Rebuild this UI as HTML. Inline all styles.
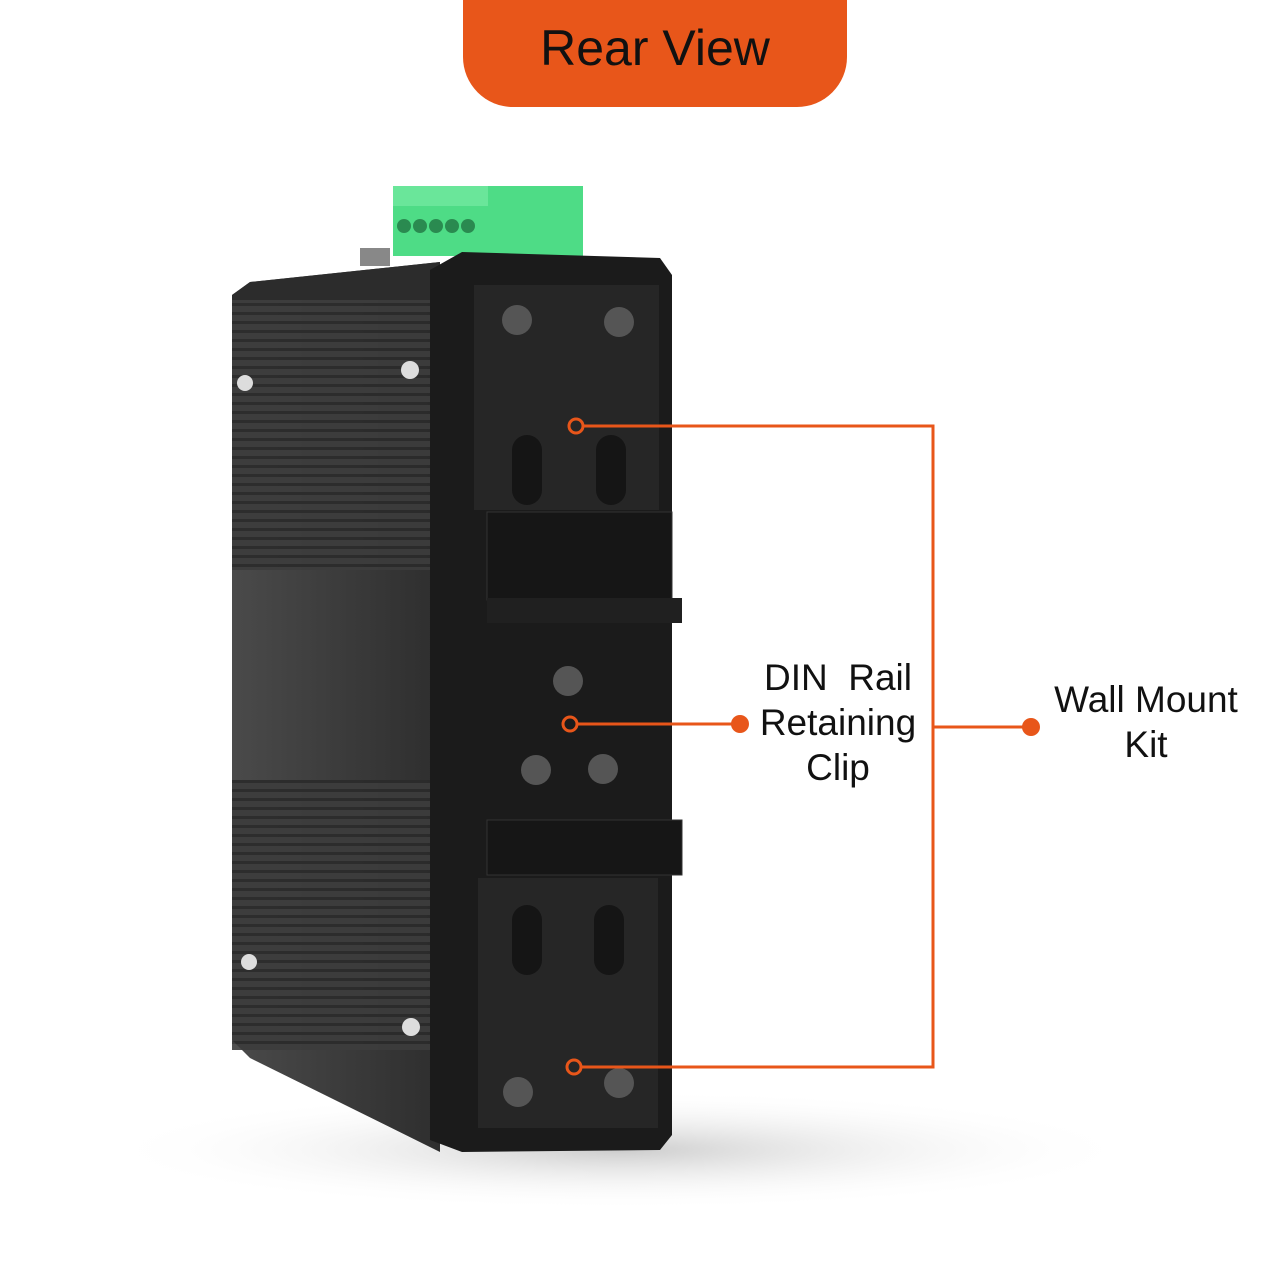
<!DOCTYPE html>
<html><head><meta charset="utf-8"><style>
html,body{margin:0;padding:0;background:#fff;}
body{width:1280px;height:1280px;overflow:hidden;position:relative;font-family:"Liberation Sans",sans-serif;}
.tab{position:absolute;left:463px;top:0;width:384px;height:107px;background:#E8561A;border-radius:0 0 50px 50px;text-align:center;font-size:50px;line-height:96px;color:#111;}
.lbl{position:absolute;font-size:37px;color:#111;text-align:center;line-height:45px;}
</style></head><body>
<div class="tab">Rear View</div>
<svg width="1280" height="1280" style="position:absolute;left:0;top:0">
<defs>
<linearGradient id="side" x1="0" x2="1"><stop offset="0" stop-color="#4a4a4a"/><stop offset="1" stop-color="#2e2e2e"/></linearGradient>
<pattern id="ribs" width="10" height="9" patternUnits="userSpaceOnUse"><rect width="10" height="9" fill="#3c3c3c"/><rect y="6" width="10" height="3" fill="#2a2a2a"/></pattern>
<radialGradient id="shadow" cx="0.5" cy="0.5" r="0.5"><stop offset="0" stop-color="#ccc"/><stop offset="1" stop-color="#fff" stop-opacity="0"/></radialGradient>
</defs>
<ellipse cx="620" cy="1150" rx="520" ry="60" fill="url(#shadow)"/>
<!-- green connector -->
<rect x="393" y="186" width="190" height="70" fill="#4edc86"/>
<rect x="393" y="186" width="95" height="20" fill="#6ae69a"/>
<g fill="#2a8a50"><circle cx="404" cy="226" r="7"/><circle cx="420" cy="226" r="7"/><circle cx="436" cy="226" r="7"/><circle cx="452" cy="226" r="7"/><circle cx="468" cy="226" r="7"/></g>
<rect x="360" y="248" width="30" height="18" fill="#888"/>
<!-- left side -->
<polygon points="232,295 250,282 440,262 440,1152 250,1058 232,1040" fill="url(#side)"/>
<rect x="232" y="300" width="200" height="270" fill="url(#ribs)" opacity="0.9"/>
<rect x="232" y="780" width="200" height="270" fill="url(#ribs)" opacity="0.9"/>
<polygon points="232,295 250,282 440,262 440,300 232,300" fill="#2c2c2c"/>
<g fill="#ddd"><circle cx="245" cy="383" r="8"/><circle cx="410" cy="370" r="9"/><circle cx="249" cy="962" r="8"/><circle cx="411" cy="1027" r="9"/></g>
<!-- front -->
<polygon points="430,270 462,252 660,258 672,275 672,1135 660,1150 462,1152 430,1140" fill="#1b1b1b"/>
<rect x="474" y="285" width="185" height="225" fill="#262626"/>
<rect x="478" y="878" width="180" height="250" fill="#262626"/>
<rect x="487" y="512" width="185" height="88" fill="#161616" stroke="#333"/>
<rect x="487" y="598" width="195" height="25" fill="#202020"/>
<rect x="487" y="820" width="195" height="55" fill="#161616" stroke="#333"/>
<g fill="#555"><circle cx="517" cy="320" r="15"/><circle cx="619" cy="322" r="15"/><circle cx="568" cy="681" r="15"/><circle cx="536" cy="770" r="15"/><circle cx="603" cy="769" r="15"/><circle cx="518" cy="1092" r="15"/><circle cx="619" cy="1083" r="15"/></g>
<g fill="#151515"><rect x="512" y="435" width="30" height="70" rx="15"/><rect x="596" y="435" width="30" height="70" rx="15"/><rect x="512" y="905" width="30" height="70" rx="15"/><rect x="594" y="905" width="30" height="70" rx="15"/></g>
<!-- callouts -->
<g stroke="#E8561A" stroke-width="3" fill="none">
<polyline points="584,426 933,426 933,1067 582,1067"/>
<line x1="933" y1="727" x2="1031" y2="727"/>
<line x1="578" y1="724" x2="740" y2="724"/>
<circle cx="576" cy="426" r="7"/><circle cx="574" cy="1067" r="7"/><circle cx="570" cy="724" r="7"/>
</g>
<circle cx="740" cy="724" r="9" fill="#E8561A"/>
<circle cx="1031" cy="727" r="9" fill="#E8561A"/>
</svg>
<div class="lbl" style="left:740px;top:655px;width:196px;">DIN&nbsp; Rail<br>Retaining<br>Clip</div>
<div class="lbl" style="left:1040px;top:677px;width:212px;">Wall Mount<br>Kit</div>
</body></html>
